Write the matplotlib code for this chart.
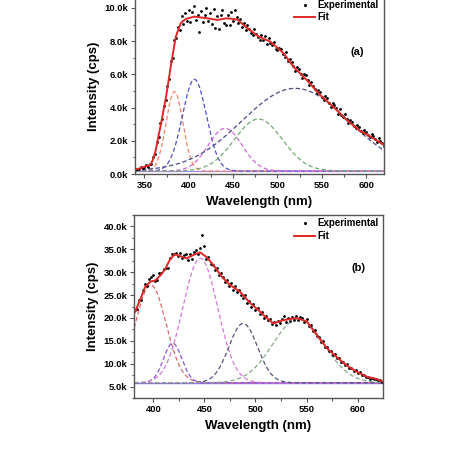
import numpy as np
import matplotlib
matplotlib.use("Agg")
import matplotlib.pyplot as plt
from matplotlib.ticker import FuncFormatter, MultipleLocator

plt.rcParams['font.family'] = ['Liberation Sans', 'DejaVu Sans']
plt.rcParams['font.weight'] = 'bold'

# ---------------- Panel (a) data (intensity in k cps) ----------------
exp_a_wl = np.arange(340, 621, 2)
exp_a_int = [0.25, 0.33, 0.28, 0.40, 0.35, 0.42, 0.52, 0.45, 0.60, 0.58,
             1.05, 1.20, 1.90, 2.20, 3.05, 3.30, 4.10, 4.45, 5.30, 5.70,
             6.80, 7.00, 8.10, 8.20, 8.85, 8.70, 9.50, 9.05, 9.70, 9.20,
             9.85, 9.15, 9.75, 10.1, 9.30, 9.60, 8.55, 9.80, 9.15, 9.55,
             10.0, 9.20, 9.70, 9.05, 9.95, 8.80, 9.50, 8.75, 9.60, 9.90,
             9.10, 8.95, 9.55, 9.00, 9.75, 9.20, 9.90, 9.45, 9.10, 9.35,
             8.85, 9.10, 8.70, 8.95, 8.75, 8.50, 8.40, 8.75, 8.45, 8.25,
             8.05, 8.40, 8.10, 8.30, 7.80, 8.20, 7.90, 7.75, 7.95, 7.55,
             7.45, 7.60, 7.55, 7.25, 7.05, 7.35, 6.80, 6.95, 6.75, 6.50,
             6.20, 6.45, 6.35, 6.05, 5.80, 6.05, 5.95, 5.65, 5.35, 5.55,
             5.30, 5.10, 4.85, 5.05, 4.95, 4.65, 4.45, 4.70, 4.55, 4.25,
             4.05, 4.30, 4.15, 3.95, 3.60, 3.90, 3.55, 3.45, 3.60, 3.30,
             3.10, 3.25, 3.15, 2.90, 2.80, 2.95, 2.85, 2.60, 2.45, 2.65,
             2.55, 2.35, 2.20, 2.40, 2.30, 2.10, 1.95, 2.15, 2.00, 1.85,
             1.70]

fit_a_wl = [340, 345, 351, 357, 360, 363, 366, 369, 372, 374.5, 378, 380, 383,
            385.5, 388, 391, 394, 397, 406, 421, 432, 443, 455, 464, 479, 492,
            507, 518, 533, 548, 563, 578, 593, 605, 620]
fit_a_int = [0.28, 0.34, 0.45, 0.55, 0.90, 1.45, 2.30, 3.07, 3.95, 4.66, 5.85,
             6.57, 7.50, 8.27, 8.65, 9.08, 9.23, 9.34, 9.48, 9.38, 9.28, 9.38,
             9.30, 8.87, 8.27, 7.97, 7.27, 6.46, 5.66, 4.76, 4.05, 3.25, 2.60,
             2.25, 1.75]

# Gaussian components of panel (a): centre (nm), height above baseline (k), sigma (nm)
base_a = 0.18
peak_a_center = [384, 406.5, 441, 478.5, 520]
peak_a_height = [4.78, 5.52, 2.57, 3.13, 4.98]
peak_a_sigma = [9.5, 13.5, 19, 27, 60]
peak_a_color = ['#f0866a', '#5050cc', '#d468dc', '#70aa70', '#4a4a88']

# ---------------- Panel (b) data ----------------
exp_b_wl = np.arange(382, 625, 2)
exp_b_int = [21.8, 22.0, 23.9, 24.0, 26.2, 27.5, 26.9, 28.4, 28.9, 29.4,
             28.0, 28.2, 29.8, 29.9, 30.6, 31.0, 30.9, 33.1, 34.0, 33.9,
             34.2, 33.4, 34.1, 33.0, 33.8, 34.0, 32.6, 33.9, 32.8, 34.4,
             34.9, 33.9, 35.3, 38.0, 35.6, 32.9, 33.2, 31.8, 31.6, 30.5,
             31.0, 29.3, 29.8, 28.9, 27.8, 28.3, 27.0, 27.6, 26.2, 26.9,
             25.6, 26.2, 25.0, 24.3, 24.9, 23.2, 23.6, 22.4, 23.0, 21.8,
             22.1, 20.9, 21.3, 20.1, 20.4, 19.5, 19.8, 18.6, 19.1, 18.5,
             19.4, 18.9, 19.8, 20.5, 19.2, 20.1, 19.4, 20.3, 19.6, 20.4,
             19.5, 20.2, 20.0, 19.1, 19.7, 18.3, 18.5, 17.1, 17.3, 16.0,
             15.9, 14.7, 14.9, 13.6, 13.6, 12.7, 12.9, 11.9, 12.1, 11.2,
             11.3, 10.4, 10.5, 9.7, 9.9, 9.0, 9.2, 8.5, 8.6, 8.0,
             8.2, 7.5, 7.6, 7.1, 7.2, 6.8, 7.0, 6.6, 6.8, 6.4,
             6.5, 6.0]

fit_b_wl = [382, 387, 392, 397, 402, 407, 411.5, 416, 421, 426, 432.7, 439,
            445.7, 452, 459, 467, 475, 485, 495, 503, 508, 517.5, 527, 540,
            550, 560, 570, 579.5, 589, 599, 609, 618.6, 625]
fit_b_int = [21.3, 23.9, 26.8, 27.9, 28.2, 29.3, 30.6, 32.6, 33.9, 33.5, 33.0,
             33.7, 34.3, 33.3, 31.5, 29.0, 27.2, 25.7, 23.2, 21.7, 20.6, 18.8,
             19.5, 20.0, 19.3, 16.3, 13.4, 11.5, 9.7, 8.3, 7.2, 6.7, 6.1]

base_b = 5.9
peak_b_center = [397.5, 419, 446, 488, 542]
peak_b_height = [21.3, 8.6, 27.1, 12.9, 13.9]
peak_b_sigma = [15, 9, 17, 14, 25]
peak_b_color = ['#d86a6a', '#8a55dd', '#d27ad8', '#55557a', '#8aac8a']


def kfmt(v, pos):
    return f'{v:.1f}k'


def style_axes(ax):
    for s in ax.spines.values():
        s.set_color('#555555')
        s.set_linewidth(1.0)
    ax.tick_params(which='both', direction='out', labelsize=6.8, width=0.8,
                   color='#555555', top=False, right=False, pad=2)
    ax.tick_params(which='major', length=3)
    ax.tick_params(which='minor', length=1.8)
    for lab in ax.get_xticklabels() + ax.get_yticklabels():
        lab.set_fontweight('bold')
    ax.yaxis.set_major_formatter(FuncFormatter(kfmt))
    ax.set_xlabel('Wavelength (nm)', fontsize=9.5, fontweight='bold', labelpad=4)
    ax.set_ylabel('Intensity (cps)', fontsize=9.5, fontweight='bold', labelpad=3)


fig = plt.figure(figsize=(4.74, 4.74), dpi=100)

# ---------------- Panel (a) ----------------
axa = fig.add_axes([0.2848, 0.6329, 0.5253, 0.3713])
grid_a = np.linspace(339.5, 620, 600)
axa.plot(grid_a, np.full_like(grid_a, base_a), color='#a88ae0', lw=0.9)
for c, h, s, col in zip(peak_a_center, peak_a_height, peak_a_sigma, peak_a_color):
    axa.plot(grid_a, base_a + h * np.exp(-(grid_a - c) ** 2 / (2 * s * s)),
             ls=(0, (3.5, 2)), color=col, lw=0.9)
axa.plot(exp_a_wl, exp_a_int, ls='none', marker='o', ms=1.0, color='black',
         label='Experimental')
axa.plot(fit_a_wl, fit_a_int, color='#e02828', lw=1.4, label='Fit')
axa.set_xlim(339.5, 620)
axa.set_ylim(0, 10.6)
axa.xaxis.set_major_locator(MultipleLocator(50))
axa.xaxis.set_minor_locator(MultipleLocator(25))
axa.yaxis.set_major_locator(MultipleLocator(2))
axa.yaxis.set_minor_locator(MultipleLocator(1))
style_axes(axa)
axa.text(357 / 474, 1 - 52 / 474, '(a)', transform=fig.transFigure,
         fontsize=8, fontweight='bold', ha='center', va='center')
axa.legend(loc='upper left', bbox_to_anchor=(294 / 474, 1 - 0.5 / 474),
           bbox_transform=fig.transFigure, frameon=False,
           prop={'weight': 'bold', 'size': 7}, borderpad=0, borderaxespad=0,
           handlelength=2.2, handletextpad=0.25, labelspacing=0.2,
           markerscale=1.2)

# ---------------- Panel (b) ----------------
axb = fig.add_axes([0.2833, 0.1597, 0.524, 0.3873])
grid_b = np.linspace(381.4, 624.5, 600)
axb.plot(grid_b, np.full_like(grid_b, base_b), color='#9a70e8', lw=1.0)
for c, h, s, col in zip(peak_b_center, peak_b_height, peak_b_sigma, peak_b_color):
    axb.plot(grid_b, base_b + h * np.exp(-(grid_b - c) ** 2 / (2 * s * s)),
             ls=(0, (3.5, 2)), color=col, lw=0.9)
axb.plot(exp_b_wl, exp_b_int, ls='none', marker='o', ms=1.0, color='black',
         label='Experimental')
axb.plot(fit_b_wl, fit_b_int, color='#e02828', lw=1.4, label='Fit')
axb.set_xlim(381.4, 624.5)
axb.set_ylim(2.5, 42.5)
axb.xaxis.set_major_locator(MultipleLocator(50))
axb.xaxis.set_minor_locator(MultipleLocator(25))
axb.yaxis.set_major_locator(MultipleLocator(5))
axb.yaxis.set_minor_locator(MultipleLocator(2.5))
style_axes(axb)
axb.text(358 / 474, 1 - 268 / 474, '(b)', transform=fig.transFigure,
         fontsize=8, fontweight='bold', ha='center', va='center')
axb.legend(loc='upper left', bbox_to_anchor=(294 / 474, 1 - 218 / 474),
           bbox_transform=fig.transFigure, frameon=False,
           prop={'weight': 'bold', 'size': 7}, borderpad=0, borderaxespad=0,
           handlelength=2.2, handletextpad=0.25, labelspacing=0.35,
           markerscale=1.2)

fig.savefig('out.png', dpi=100)
